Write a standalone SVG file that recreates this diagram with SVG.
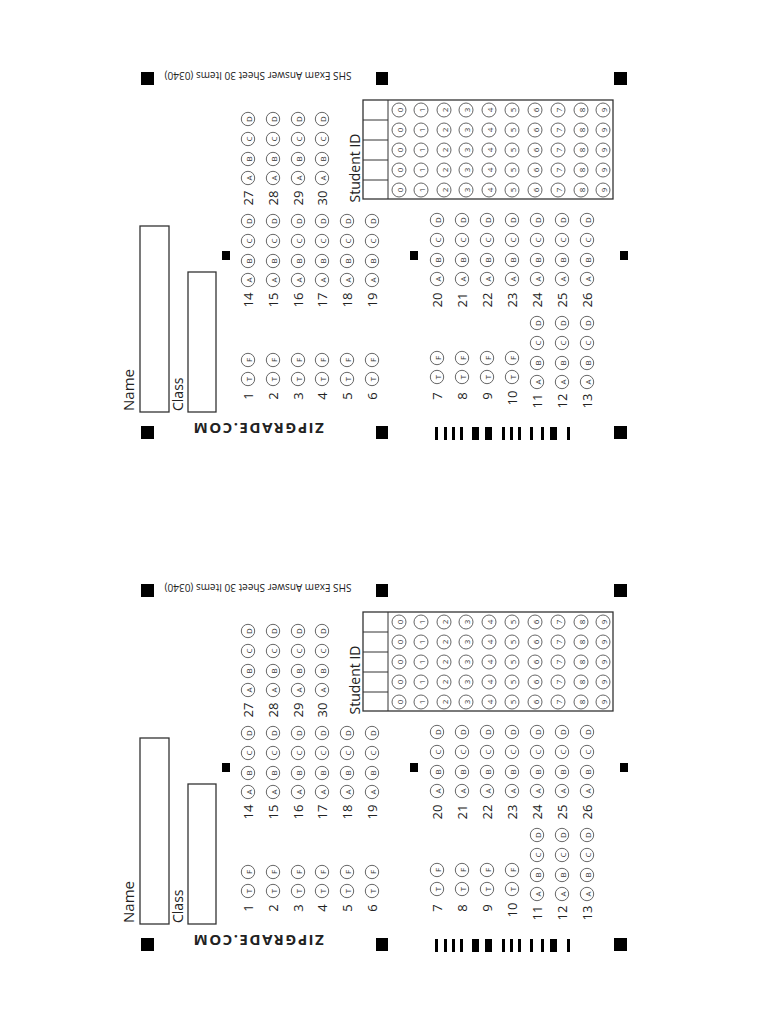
<svg xmlns="http://www.w3.org/2000/svg" xmlns:xlink="http://www.w3.org/1999/xlink" width="768" height="1024" viewBox="0 0 768 1024">
<style>
text{font-family:"Open Sans","Liberation Sans",sans-serif;fill:#222}
.bl circle{fill:#fff;stroke:#555;stroke-width:0.9}
.bl text{font-size:8px;text-anchor:middle;dominant-baseline:central;fill:#333}
.n{font-size:13px;text-anchor:middle;dominant-baseline:central}
.box{fill:#fff;stroke:#333;stroke-width:1.3}
.sq{fill:#000}
</style>
<defs>
<g id="bA" class="bl"><circle r="6.7"/><text transform="rotate(-90)">A</text></g>
<g id="bB" class="bl"><circle r="6.7"/><text transform="rotate(-90)">B</text></g>
<g id="bC" class="bl"><circle r="6.7"/><text transform="rotate(-90)">C</text></g>
<g id="bD" class="bl"><circle r="6.7"/><text transform="rotate(-90)">D</text></g>
<g id="bT" class="bl"><circle r="6.7"/><text transform="rotate(-90)">T</text></g>
<g id="bF" class="bl"><circle r="6.7"/><text transform="rotate(-90)">F</text></g>
<g id="d0" class="bl"><circle r="7"/><text transform="rotate(-90)">0</text></g>
<g id="d1" class="bl"><circle r="7"/><text transform="rotate(-90)">1</text></g>
<g id="d2" class="bl"><circle r="7"/><text transform="rotate(-90)">2</text></g>
<g id="d3" class="bl"><circle r="7"/><text transform="rotate(-90)">3</text></g>
<g id="d4" class="bl"><circle r="7"/><text transform="rotate(-90)">4</text></g>
<g id="d5" class="bl"><circle r="7"/><text transform="rotate(-90)">5</text></g>
<g id="d6" class="bl"><circle r="7"/><text transform="rotate(-90)">6</text></g>
<g id="d7" class="bl"><circle r="7"/><text transform="rotate(-90)">7</text></g>
<g id="d8" class="bl"><circle r="7"/><text transform="rotate(-90)">8</text></g>
<g id="d9" class="bl"><circle r="7"/><text transform="rotate(-90)">9</text></g>
<g id="abcd"><use href="#bD" y="0"/><use href="#bC" y="20"/><use href="#bB" y="40"/><use href="#bA" y="59"/></g>
<g id="tf"><use href="#bF" y="0"/><use href="#bT" y="19"/></g>
<g id="sheet">
 <rect width="768" height="512" fill="#fff"/>
 <g id="marks">
  <rect class="sq" x="141" y="72" width="13" height="13"/>
  <rect class="sq" x="376" y="72" width="12" height="13"/>
  <rect class="sq" x="614" y="72" width="13" height="13"/>
  <rect class="sq" x="141" y="426" width="13" height="13"/>
  <rect class="sq" x="376" y="426" width="12" height="13"/>
  <rect class="sq" x="614" y="426" width="13" height="13"/>
  <rect class="sq" x="222" y="251" width="8" height="9"/>
  <rect class="sq" x="410" y="251" width="8" height="9"/>
  <rect class="sq" x="620" y="251" width="8" height="9"/>
 </g>
 <g id="barcode" fill="#000">
  <rect x="435" y="427" width="3" height="13"/><rect x="444" y="427" width="3" height="13"/><rect x="452" y="427" width="3" height="13"/><rect x="460" y="427" width="3" height="13"/>
  <rect x="472" y="427" width="7" height="13"/><rect x="485" y="427" width="7" height="13"/>
  <rect x="502" y="427" width="3" height="13"/><rect x="510" y="427" width="3" height="13"/><rect x="518" y="427" width="3" height="13"/>
  <rect x="530" y="427" width="3" height="13"/><rect x="541" y="427" width="3" height="13"/><rect x="550" y="427" width="7" height="13"/><rect x="567" y="427" width="3" height="13"/>
 </g>
 <text transform="translate(258,76) rotate(180)" font-size="10" text-anchor="middle" dominant-baseline="central">SHS Exam Answer Sheet 30 Items (0340)</text>
 <text transform="translate(258,429) rotate(180)" font-size="15" font-weight="bold" letter-spacing="1.5" text-anchor="middle" dominant-baseline="central" font-family="DejaVu Sans Mono,monospace">ZIPGRADE.COM</text>
 <g id="name"><rect class="box" x="140" y="226" width="29" height="186"/><text transform="translate(134,411) rotate(-90)" font-size="15">Name</text></g>
 <g id="class"><rect class="box" x="188" y="272" width="28" height="140"/><text transform="translate(183,411) rotate(-90)" font-size="14">Class</text></g>
 <g id="studentid">
  <text transform="translate(360,168) rotate(-90)" font-size="14" text-anchor="middle">Student ID</text>
  <rect class="box" x="363" y="100" width="250" height="99" stroke-width="1"/>
  <path d="M388,100V199M363,120H388M363,140H388M363,160H388M363,180H388" stroke="#333" fill="none"/>
  <g transform="translate(399,110)"><use href="#d0"/><use href="#d0" y="20"/><use href="#d0" y="40"/><use href="#d0" y="60"/><use href="#d0" y="80"/></g>
  <g transform="translate(421,110)"><use href="#d1"/><use href="#d1" y="20"/><use href="#d1" y="40"/><use href="#d1" y="60"/><use href="#d1" y="80"/></g>
  <g transform="translate(444,110)"><use href="#d2"/><use href="#d2" y="20"/><use href="#d2" y="40"/><use href="#d2" y="60"/><use href="#d2" y="80"/></g>
  <g transform="translate(466,110)"><use href="#d3"/><use href="#d3" y="20"/><use href="#d3" y="40"/><use href="#d3" y="60"/><use href="#d3" y="80"/></g>
  <g transform="translate(489,110)"><use href="#d4"/><use href="#d4" y="20"/><use href="#d4" y="40"/><use href="#d4" y="60"/><use href="#d4" y="80"/></g>
  <g transform="translate(512,110)"><use href="#d5"/><use href="#d5" y="20"/><use href="#d5" y="40"/><use href="#d5" y="60"/><use href="#d5" y="80"/></g>
  <g transform="translate(535,110)"><use href="#d6"/><use href="#d6" y="20"/><use href="#d6" y="40"/><use href="#d6" y="60"/><use href="#d6" y="80"/></g>
  <g transform="translate(558,110)"><use href="#d7"/><use href="#d7" y="20"/><use href="#d7" y="40"/><use href="#d7" y="60"/><use href="#d7" y="80"/></g>
  <g transform="translate(581,110)"><use href="#d8"/><use href="#d8" y="20"/><use href="#d8" y="40"/><use href="#d8" y="60"/><use href="#d8" y="80"/></g>
  <g transform="translate(603,110)"><use href="#d9"/><use href="#d9" y="20"/><use href="#d9" y="40"/><use href="#d9" y="60"/><use href="#d9" y="80"/></g>
 </g>
 <g id="q-block1">
  <g transform="translate(248,0)"><text class="n" transform="translate(0,396) rotate(-90)">1</text><use href="#tf" y="360"/><text class="n" transform="translate(0,300) rotate(-90)">14</text><use href="#abcd" y="221"/><text class="n" transform="translate(0,198) rotate(-90)">27</text><use href="#abcd" y="119"/></g>
  <g transform="translate(273,0)"><text class="n" transform="translate(0,396) rotate(-90)">2</text><use href="#tf" y="360"/><text class="n" transform="translate(0,300) rotate(-90)">15</text><use href="#abcd" y="221"/><text class="n" transform="translate(0,198) rotate(-90)">28</text><use href="#abcd" y="119"/></g>
  <g transform="translate(298,0)"><text class="n" transform="translate(0,396) rotate(-90)">3</text><use href="#tf" y="360"/><text class="n" transform="translate(0,300) rotate(-90)">16</text><use href="#abcd" y="221"/><text class="n" transform="translate(0,198) rotate(-90)">29</text><use href="#abcd" y="119"/></g>
  <g transform="translate(322,0)"><text class="n" transform="translate(0,396) rotate(-90)">4</text><use href="#tf" y="360"/><text class="n" transform="translate(0,300) rotate(-90)">17</text><use href="#abcd" y="221"/><text class="n" transform="translate(0,198) rotate(-90)">30</text><use href="#abcd" y="119"/></g>
  <g transform="translate(347,0)"><text class="n" transform="translate(0,396) rotate(-90)">5</text><use href="#tf" y="360"/><text class="n" transform="translate(0,300) rotate(-90)">18</text><use href="#abcd" y="221"/></g>
  <g transform="translate(372,0)"><text class="n" transform="translate(0,396) rotate(-90)">6</text><use href="#tf" y="360"/><text class="n" transform="translate(0,300) rotate(-90)">19</text><use href="#abcd" y="221"/></g>
 </g>
 <g id="q-block2">
  <g transform="translate(437,0)"><text class="n" transform="translate(0,396) rotate(-90)">7</text><use href="#tf" y="358"/><text class="n" transform="translate(0,300) rotate(-90)">20</text><use href="#abcd" y="220"/></g>
  <g transform="translate(462,0)"><text class="n" transform="translate(0,396) rotate(-90)">8</text><use href="#tf" y="358"/><text class="n" transform="translate(0,300) rotate(-90)">21</text><use href="#abcd" y="220"/></g>
  <g transform="translate(487,0)"><text class="n" transform="translate(0,396) rotate(-90)">9</text><use href="#tf" y="358"/><text class="n" transform="translate(0,300) rotate(-90)">22</text><use href="#abcd" y="220"/></g>
  <g transform="translate(512,0)"><text class="n" transform="translate(0,398) rotate(-90)">10</text><use href="#tf" y="358"/><text class="n" transform="translate(0,300) rotate(-90)">23</text><use href="#abcd" y="220"/></g>
  <g transform="translate(537,0)"><text class="n" transform="translate(0,401) rotate(-90)">11</text><use href="#abcd" y="323"/><text class="n" transform="translate(0,300) rotate(-90)">24</text><use href="#abcd" y="220"/></g>
  <g transform="translate(562,0)"><text class="n" transform="translate(0,401) rotate(-90)">12</text><use href="#abcd" y="323"/><text class="n" transform="translate(0,300) rotate(-90)">25</text><use href="#abcd" y="220"/></g>
  <g transform="translate(587,0)"><text class="n" transform="translate(0,401) rotate(-90)">13</text><use href="#abcd" y="323"/><text class="n" transform="translate(0,300) rotate(-90)">26</text><use href="#abcd" y="220"/></g>
 </g>
</g>
</defs>
<rect width="768" height="1024" fill="#fff"/>
<use id="sheet-top" href="#sheet"/>
<use id="sheet-bottom" href="#sheet" y="512"/>
</svg>
